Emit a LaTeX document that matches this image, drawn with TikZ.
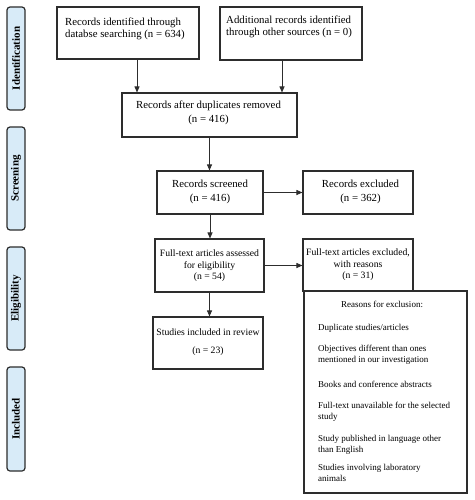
\documentclass[tikz,border=0pt]{standalone}
\usepackage{fontspec}
\setmainfont{Liberation Serif}
\usetikzlibrary{arrows.meta}
\definecolor{sidefill}{RGB}{216,235,248}
\definecolor{linegray}{RGB}{45,45,45}
\tikzset{
  box/.style={draw=linegray, line width=1.1pt, inner sep=0pt},
  side/.style={draw=linegray, line width=1.2pt, fill=sidefill, rounded corners=3pt, rotate=90, inner sep=0pt,
    minimum height=18pt, font=\fontsize{11}{13}\selectfont\bfseries},
  txt/.style={inner sep=0pt, align=center, font=\fontsize{10.8}{12.5}\selectfont},
  txtl/.style={inner sep=0pt, align=left, font=\fontsize{10.8}{12.5}\selectfont},
  stxt/.style={inner sep=0pt, align=center, font=\fontsize{9.7}{11.5}\selectfont},
  rtxt/.style={inner sep=0pt, align=left, anchor=west, font=\fontsize{9}{11}\selectfont},
  arr/.style={draw=linegray, line width=0.9pt, -{Triangle[length=6pt,width=5pt]}}
}
\begin{document}
\begin{tikzpicture}[x=1pt,y=-1pt]
\useasboundingbox (0,0) rectangle (474,500);
% side labels
\node[side, minimum width=103pt] (sid) at (16,58.5) {Identification};
\node[side, minimum width=103pt] (ssc) at (16,178.5) {Screening};
\node[side, minimum width=103pt] (sel) at (16,298.5) {Eligibility};
\node[side, minimum width=104pt] (sin) at (16,419) {Included};
% boxes
\node[box, minimum width=142pt, minimum height=52pt] (b1) at (128,33) {};
\node[box, minimum width=142pt, minimum height=53pt] (b2) at (291,33.5) {};
\node[box, minimum width=175pt, minimum height=44pt] (b3) at (209.5,115) {};
\node[box, minimum width=106pt, minimum height=43pt] (b4) at (210,192.5) {};
\node[box, minimum width=110pt, minimum height=43pt] (b5) at (358,192.5) {};
\node[box, minimum width=109pt, minimum height=53pt] (b6) at (209.5,265.5) {};
\node[box, minimum width=110pt, minimum height=52pt] (b7) at (358,265) {};
\node[box, minimum width=163pt, minimum height=202pt] (br) at (385.5,392) {};
\node[box, minimum width=110pt, minimum height=52pt] (b8) at (208,343) {};
% texts
\node[txtl, anchor=west] (t1) at (65,29) {Records identified through\\databse searching (n = 634)};
\node[txtl, anchor=west] (t2) at (226,27) {Additional records identified\\through other sources (n = 0)};
\node[txt, font=\fontsize{10.8}{14}\selectfont] (t3) at (208.5,113) {Records after duplicates removed\\(n = 416)};
\node[txt, font=\fontsize{10.8}{14}\selectfont] (t4) at (210,192) {Records screened\\(n = 416)};
\node[txt, font=\fontsize{10.8}{14}\selectfont] (t5) at (360.5,192) {Records excluded\\(n = 362)};
\node[stxt] (t6) at (209.5,266) {Full-text articles assessed\\for eligibility\\(n = 54)};
\node[stxt] (t7) at (358,265) {Full-text articles excluded,\\with reasons\\(n = 31)};
\node[stxt, font=\fontsize{9.7}{18}\selectfont] (t8) at (208,342) {Studies included in review\\(n = 23)};
% reasons
\node[rtxt, anchor=center] (rh) at (382,304) {Reasons for exclusion:};
\node[rtxt] (r1) at (318,328) {Duplicate studies/articles};
\node[rtxt] (r2) at (318,355) {Objectives different than ones\\mentioned in our investigation};
\node[rtxt] (r3) at (318,384) {Books and conference abstracts};
\node[rtxt] (r4) at (318,411.5) {Full-text unavailable for the selected\\study};
\node[rtxt] (r5) at (318,444.5) {Study published in language other\\than English};
\node[rtxt] (r6) at (318,472.5) {Studies involving laboratory\\animals};
% arrows
\draw[arr] ([xshift=9pt]b1.south) -- ([xshift=9pt]b1.south |- b3.north);
\draw[arr] ([xshift=-9pt]b2.south) -- ([xshift=-9pt]b2.south |- b3.north);
\draw[arr] (b3.south) -- (b3.south |- b4.north);
\draw[arr] (b4.east) -- (b4.east -| b5.west);
\draw[arr] (b4.south) -- (b4.south |- b6.north);
\draw[arr] (b6.east) -- (b6.east -| b7.west);
\draw[arr] (b6.south) -- (b6.south |- b8.north);
\end{tikzpicture}
\end{document}
